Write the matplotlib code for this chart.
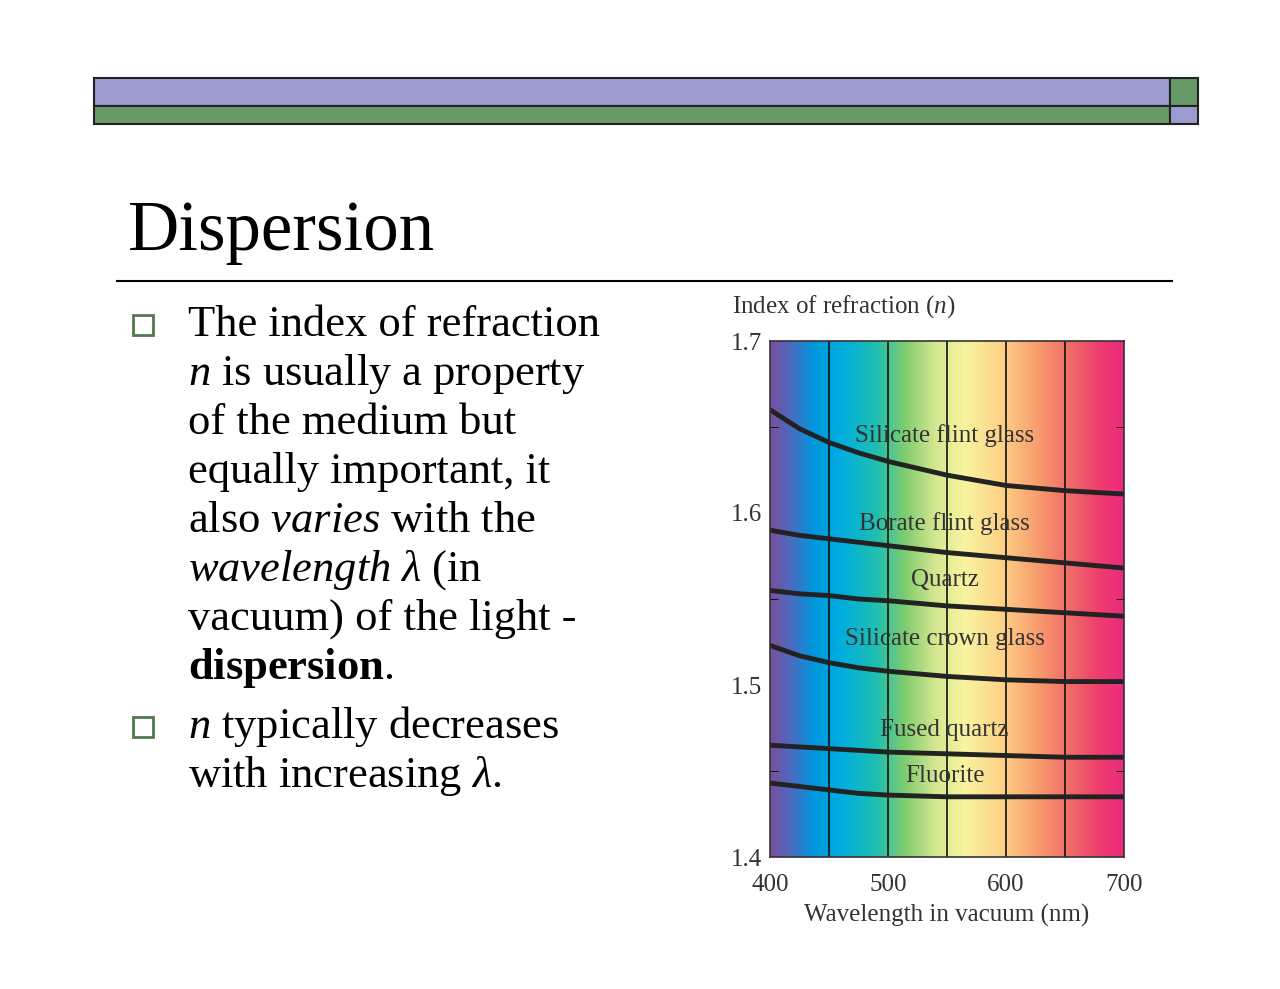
import numpy as np
import matplotlib
matplotlib.use("Agg")
import matplotlib.pyplot as plt
from matplotlib.colors import LinearSegmentedColormap
from matplotlib.patches import Rectangle

plt.rcParams['font.family'] = 'Liberation Serif'
plt.rcParams['mathtext.fontset'] = 'custom'
plt.rcParams['mathtext.rm'] = 'Liberation Serif'
plt.rcParams['mathtext.it'] = 'Liberation Serif:italic'
plt.rcParams['mathtext.bf'] = 'Liberation Serif:bold'

wavelengths = [400, 425, 450, 475, 500, 550, 600, 650, 700]
materials = ["Silicate flint glass", "Borate flint glass", "Quartz",
             "Silicate crown glass", "Fused quartz", "Fluorite"]
n_values = [
    [1.660, 1.649, 1.641, 1.635, 1.630, 1.622, 1.616, 1.613, 1.611],
    [1.590, 1.587, 1.585, 1.583, 1.581, 1.577, 1.574, 1.571, 1.568],
    [1.555, 1.553, 1.552, 1.550, 1.549, 1.546, 1.544, 1.542, 1.540],
    [1.523, 1.517, 1.513, 1.510, 1.508, 1.505, 1.503, 1.502, 1.502],
    [1.465, 1.464, 1.463, 1.462, 1.461, 1.460, 1.459, 1.458, 1.458],
    [1.443, 1.441, 1.439, 1.437, 1.436, 1.435, 1.435, 1.435, 1.435],
]
label_y = [1.645, 1.594, 1.561, 1.527, 1.474, 1.447]
xticks = [400, 500, 600, 700]
yticks = [1.4, 1.5, 1.6, 1.7]

fig = plt.figure(figsize=(12.8, 9.89), dpi=100)
H = 989.0
def fx(px): return px / 1280.0
def fy(py): return 1 - py / H

for (x0, y0, x1, y1, c) in [(94, 78, 1170, 106, '#9b9bcf'), (1170, 78, 1198, 106, '#669966'),
                            (94, 106, 1170, 124, '#669966'), (1170, 106, 1198, 124, '#9b9bcf')]:
    fig.patches.append(Rectangle((fx(x0), fy(y1)), fx(x1 - x0), (y1 - y0) / H,
                                 transform=fig.transFigure, facecolor=c, edgecolor='#222222', lw=1.5))

fig.text(fx(128), fy(250), "Dispersion", fontsize=51, va='baseline')
fig.add_artist(plt.Line2D([fx(117), fx(1172)], [fy(281), fy(281)], color='black', lw=1.5))

for by in [315, 717]:
    fig.patches.append(Rectangle((fx(133), fy(by + 20)), fx(20), 20 / H,
                                 transform=fig.transFigure, facecolor='none', edgecolor='#4f7a4f', lw=2))
FS = 32
lines = ["The index of refraction",
         r"$\mathit{n}$ is usually a property",
         "of the medium but",
         "equally important, it",
         r"also $\mathit{varies}$ with the",
         r"$\mathit{wavelength\ \lambda}$ (in",
         "vacuum) of the light -",
         r"$\mathbf{dispersion}$."]
for i, t in enumerate(lines):
    fig.text(fx(188), fy(336 + 49 * i), t, fontsize=FS, va='baseline')
for i, t in enumerate([r"$\mathit{n}$ typically decreases", r"with increasing $\mathit{\lambda}$."]):
    fig.text(fx(188), fy(738 + 49 * i), t, fontsize=FS, va='baseline')

ax = fig.add_axes([fx(770), fy(857), fx(1124 - 770), (857 - 341) / H])
stops = [(0.0, '#7a4f9e'), (0.06, '#4a6cc0'), (0.12, '#0096dc'), (0.2, '#00aee0'),
         (0.3, '#1fbfb0'), (0.38, '#80cc70'), (0.47, '#d6e890'), (0.55, '#f8f4a0'),
         (0.65, '#fdd488'), (0.75, '#f8a070'), (0.85, '#f06a68'), (0.93, '#ee3e6e'), (1.0, '#ec2a7c')]
cmap = LinearSegmentedColormap.from_list('spec', stops)
ax.imshow(np.linspace(0, 1, 512)[None, :], cmap=cmap, aspect='auto',
          extent=[400, 700, 1.4, 1.7], zorder=0)
for w in [450, 500, 550, 600, 650]:
    ax.axvline(w, color='#111111', lw=1.2, zorder=1)
for name, vals, ly in zip(materials, n_values, label_y):
    ax.plot(wavelengths, vals, color='#222222', lw=3.5, zorder=2, solid_capstyle='butt')
    ax.text(548, ly, name, ha='center', va='center', fontsize=18, color='#333333', zorder=3)
ax.set_xlim(400, 700)
ax.set_ylim(1.4, 1.7)
ax.set_xticks(xticks)
ax.set_xticklabels([str(v) for v in xticks], fontsize=18, color='#333333')
ax.set_yticks(yticks)
ax.set_yticklabels([f"{v:.1f}" for v in yticks], fontsize=18, color='#333333')
ax.set_yticks(np.arange(1.45, 1.7, 0.05), minor=True)
ax.tick_params(axis='x', direction='in', length=0, pad=12)
ax.tick_params(axis='y', direction='in', length=0, pad=6)
ax.tick_params(axis='y', which='minor', direction='in', length=6, right=True, left=True)
for s in ax.spines.values():
    s.set_color('#333333'); s.set_linewidth(1.2)
ax.set_xlabel("Wavelength in vacuum (nm)", fontsize=18, labelpad=6, color='#333333')
fig.text(fx(732), fy(313), r"Index of refraction ($\mathit{n}$)", fontsize=18, va='baseline', color='#333333')

fig.savefig("out.png", dpi=100)
